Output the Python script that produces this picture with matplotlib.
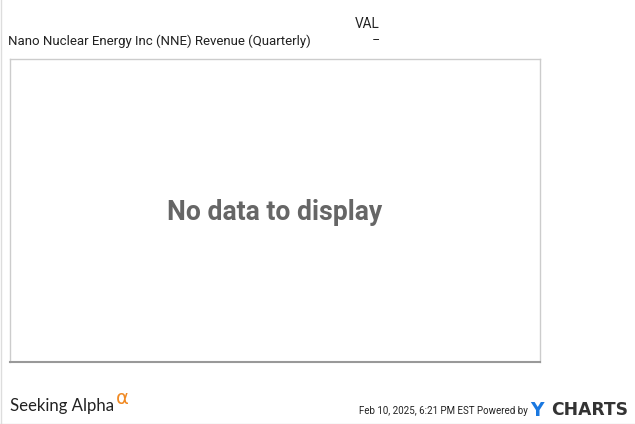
import matplotlib.pyplot as plt
from matplotlib.lines import Line2D

title = 'Nano Nuclear Energy Inc (NNE) Revenue (Quarterly)'
col_header = 'VAL'
col_value = '--'
empty_msg = 'No data to display'
timestamp = 'Feb 10, 2025, 6:21 PM EST Powered by'

W, H = 635, 424
fig = plt.figure(figsize=(W / 100, H / 100), dpi=100)

def fx(px):
    return px / W

def fy(py):
    return 1 - py / H

# plot box
ax = fig.add_axes([fx(10), fy(362), fx(530), (362 - 59) / H])
ax.set_xticks([])
ax.set_yticks([])
for side in ['top', 'left', 'right']:
    ax.spines[side].set_color('#cccccc')
    ax.spines[side].set_linewidth(1)
ax.spines['bottom'].set_color('#999999')
ax.spines['bottom'].set_linewidth(1.5)
fig.text(fx(275), fy(213), empty_msg, ha='center', va='center',
         family='Roboto', weight='bold', fontsize=19.2, color='#666666')

# header texts
fig.text(fx(380), fy(24), col_header, ha='right', va='center',
         family='Roboto', fontsize=9.8, color='#222222')
fig.text(fx(8), fy(41), title, ha='left', va='center',
         family='Roboto', fontsize=9.5, color='#222222')
fig.text(fx(380), fy(40), col_value, ha='right', va='center',
         family='Roboto', fontsize=9.5, color='#222222')

# footer
fig.text(fx(10), fy(406), 'Seeking Alpha', ha='left', va='center',
         family='Lato', fontsize=12.1, color='#222222')
fig.text(fx(116), fy(398), '\u03b1', ha='left', va='center',
         family='DejaVu Sans', fontsize=14, color='#f08a24')
fig.text(fx(528), fy(411), timestamp, ha='right', va='center',
         family='Roboto', fontsize=7.0, color='#222222')
fig.text(fx(530), fy(410), 'Y', ha='left', va='center',
         family='DejaVu Sans', weight='bold', fontsize=13.5, color='#1a78e0')
fig.text(fx(551), fy(410), 'CHARTS', ha='left', va='center',
         family='DejaVu Sans', weight='bold', fontsize=12.3, color='#333333')

# outer light border (left and bottom)
fig.add_artist(Line2D([fx(0.5), fx(0.5)], [0, 1], color='#dddddd', lw=1))
fig.add_artist(Line2D([0, 1], [fy(423.5), fy(423.5)], color='#dddddd', lw=1))

fig.savefig('out.png', dpi=100)
